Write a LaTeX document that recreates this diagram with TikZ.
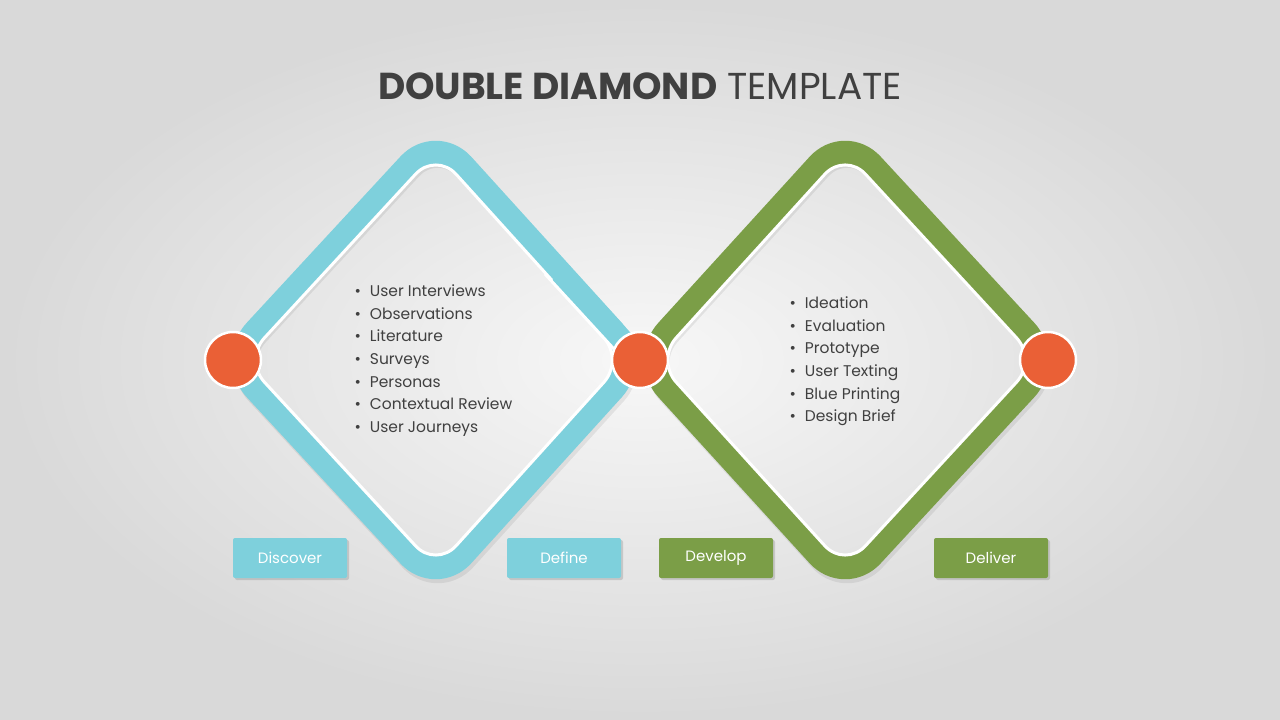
\documentclass[tikz,border=0pt]{standalone}
\usepackage{fontspec}
\setmainfont{Poppins}
\usetikzlibrary{shadows}
\definecolor{bluec}{HTML}{7ED0DC}
\definecolor{greenc}{HTML}{7B9E47}
\definecolor{orangec}{HTML}{EA6036}
\definecolor{txt}{HTML}{404040}
\tikzset{
 band/.style={line width=23pt, rounded corners=40pt, line join=round},
 inner/.style={white, line width=3pt, rounded corners=30pt},
 dot/.style={circle, fill=orangec, draw=white, line width=2.5pt, minimum size=56pt, inner sep=0pt, drop shadow={opacity=0.25, shadow xshift=1pt, shadow yshift=-1pt}},
 tag/.style={rounded corners=2pt, minimum width=114pt, minimum height=40pt, text=white, font=\fontsize{15}{18}\selectfont, drop shadow={opacity=0.3, shadow xshift=2pt, shadow yshift=-2pt}},
 list/.style={align=left, anchor=north west, text=txt, font=\fontsize{15.5}{22.7}\selectfont}
}
\begin{document}
\begin{tikzpicture}[x=1pt,y=-1pt]
\shade[inner color=white!97!black, outer color=black!15] (0,0) rectangle (1280,720);
\useasboundingbox (0,0) rectangle (1280,720);
\node (title) at (640,86) {\color{txt}\fontsize{37.5}{40}\selectfont\textbf{DOUBLE DIAMOND} TEMPLATE};
% blue diamond
\draw[band, black, opacity=0.07] (230,364) -- (438,139) -- (642,364) -- (438,589) -- cycle;
\draw[band, bluec] (228,360) -- (436,135) -- (640,360) -- (436,585) -- cycle;
\draw[inner] (244,360) -- (436,152) -- (624,360) -- (436,568) -- cycle;
% green diamond
\draw[band, black, opacity=0.07] (642,364) -- (847,139) -- (1055,364) -- (847,589) -- cycle;
\draw[band, greenc] (640,360) -- (845,135) -- (1053,360) -- (845,585) -- cycle;
\draw[inner] (656,360) -- (845,152) -- (1037,360) -- (845,568) -- cycle;
% blue over green on the upper half of the crossing
\draw[bluec, line width=23pt] (560,273) -- (640,360);
\draw[white, line width=3pt] (545,274) -- (624,360);
\node[dot] (c1) at (233,360) {};
\node[dot] (c2) at (640,360) {};
\node[dot] (c3) at (1048,360) {};
\node[list] (l1) at (351,281) {\textbullet\hspace{9pt}User Interviews\\ \textbullet\hspace{9pt}Observations\\ \textbullet\hspace{9pt}Literature\\ \textbullet\hspace{9pt}Surveys\\ \textbullet\hspace{9pt}Personas\\ \textbullet\hspace{9pt}Contextual Review\\ \textbullet\hspace{9pt}User Journeys};
\node[list] (l2) at (786,293) {\textbullet\hspace{9pt}Ideation\\ \textbullet\hspace{9pt}Evaluation\\ \textbullet\hspace{9pt}Prototype\\ \textbullet\hspace{9pt}User Texting\\ \textbullet\hspace{9pt}Blue Printing\\ \textbullet\hspace{9pt}Design Brief};
\node[tag, fill=bluec] (t1) at (290,558) {Discover};
\node[tag, fill=bluec] (t2) at (564,558) {Define};
\node[tag, fill=greenc] (t3) at (716,558) {Develop};
\node[tag, fill=greenc] (t4) at (991,558) {Deliver};
\end{tikzpicture}
\end{document}
